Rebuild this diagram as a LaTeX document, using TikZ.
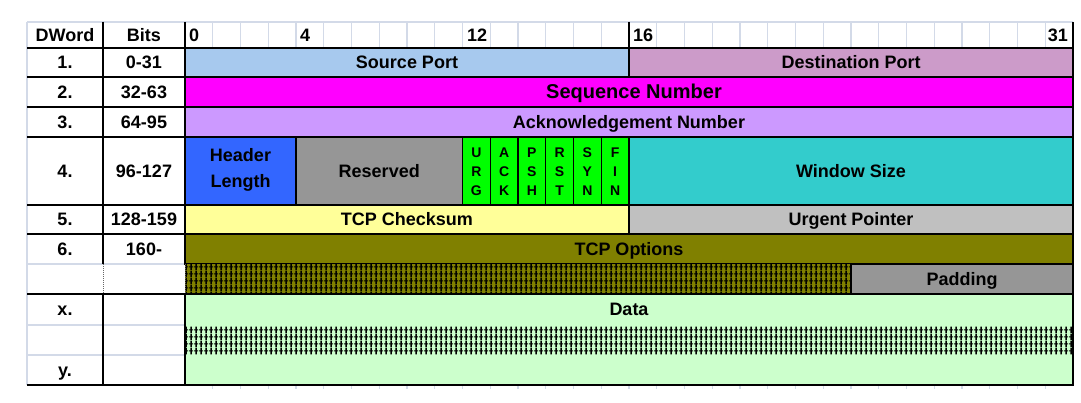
\documentclass[tikz,border=0pt]{standalone}
\usepackage{fontspec}
\setmainfont{Liberation Sans}
\usepackage{xcolor}
\usepackage{tikz}
\usetikzlibrary{patterns}
\definecolor{gridgray}{HTML}{D3DAE8}
\definecolor{srcblue}{HTML}{A7C9EE}
\definecolor{dstmauve}{HTML}{CC9BC9}
\definecolor{seqmagenta}{HTML}{FF00FF}
\definecolor{acklilac}{HTML}{CC99FF}
\definecolor{hdrblue}{HTML}{3366FF}
\definecolor{resgray}{HTML}{969696}
\definecolor{flaggreen}{HTML}{00FF00}
\definecolor{wincyan}{HTML}{33CCCC}
\definecolor{sumyellow}{HTML}{FFFF99}
\definecolor{urggray}{HTML}{C0C0C0}
\definecolor{optolive}{HTML}{808000}
\definecolor{datagreen}{HTML}{CCFFCC}
\pgfdeclarepatternformonly{fieldgrid}{\pgfpointorigin}{\pgfqpoint{4.6pt}{7pt}}{\pgfqpoint{4.6pt}{7pt}}{
  \pgfsetlinewidth{1.5pt}
  \pgfpathmoveto{\pgfqpoint{2.3pt}{0pt}}\pgfpathlineto{\pgfqpoint{2.3pt}{7pt}}
  \pgfusepath{stroke}
  \pgfsetlinewidth{1pt}
  \pgfpathmoveto{\pgfqpoint{0pt}{3.5pt}}\pgfpathlineto{\pgfqpoint{4.6pt}{3.5pt}}
  \pgfusepath{stroke}}
\tikzset{
  field/.style={draw=black,line width=1.4pt},
  gridline/.style={gridgray,line width=1.2pt},
  rule/.style={black,line width=1.6pt},
  hatch/.style={pattern=fieldgrid,pattern color=black},
  lbl/.style={font=\fontsize{18}{20}\selectfont\bfseries,inner sep=0pt,text height=13pt,text depth=0pt},
  twolbl/.style={font=\fontsize{18}{26}\selectfont\bfseries,inner sep=0pt,align=center},
  flaglbl/.style={font=\fontsize{14}{19}\selectfont\bfseries,inner sep=0pt,align=center}
}

\begin{document}
\begin{tikzpicture}[x=1pt,y=-1pt]
\useasboundingbox (0,0) rectangle (1081,403);
% light grid of the sheet
\draw[gridline] (27,22) -- (1073,22);
\draw[gridline] (27,22) -- (27,385);
\foreach \i in {1,...,31}
  \draw[gridline] ({185+\i*27.75},22) -- ({185+\i*27.75},48);
\foreach \i in {1,...,31}
  \draw[gridline] ({185+\i*27.75},385) -- ({185+\i*27.75},389);
\draw[gridline] (27,264) -- (185,264);
\draw[gridline] (27,325) -- (185,325);
\draw[gridline] (27,355) -- (185,355);
% fields
\filldraw[field,fill=srcblue] (185,48) rectangle (629,77);
\filldraw[field,fill=dstmauve] (629,48) rectangle (1073,77);
\filldraw[field,fill=seqmagenta] (185,77) rectangle (1073,107);
\filldraw[field,fill=acklilac] (185,107) rectangle (1073,137);
\filldraw[field,fill=hdrblue] (185,137) rectangle (296,205);
\filldraw[field,fill=resgray] (296,137) rectangle (462.5,205);
\foreach \a/\b/\c [count=\k from 0] in {U/R/G,A/C/K,P/S/H,R/S/T,S/Y/N,F/I/N}{
  \filldraw[field,fill=flaggreen] ({462.5+\k*27.75},137) rectangle ({490.25+\k*27.75},205);
  \node[flaglbl] (flag\k) at ({476.4+\k*27.75},172) {\a\\\b\\\c};
}
\filldraw[field,fill=wincyan] (629,137) rectangle (1073,205);
\filldraw[field,fill=sumyellow] (185,205) rectangle (629,234);
\filldraw[field,fill=urggray] (629,205) rectangle (1073,234);
\filldraw[field,fill=optolive] (185,234) rectangle (1073,264);
\fill[optolive] (185,264) rectangle (851,294);
\fill[hatch] (185,265) rectangle (851,292);
\draw[black!70,densely dotted,line width=1pt] (851,264) -- (851,294);
\filldraw[field,fill=resgray] (851,264) rectangle (1073,294);
\filldraw[field,fill=datagreen] (185,294) rectangle (1073,385);
\fill[hatch] (185,326) rectangle (1073,354);
% table rules
\draw[rule] (103,22) -- (103,264);
\draw[rule] (185,22) -- (185,264);
\draw[black!60,densely dotted,line width=1pt] (103,264) -- (103,294) (185,264) -- (185,294);
\draw[rule] (103,294) -- (103,385);
\draw[rule] (185,294) -- (185,385);
\draw[rule] (629,22) -- (629,48);
\draw[rule] (1073,22) -- (1073,48);
\foreach \r in {48,77,107,137,205,234,294,385}
  \draw[rule] (27,\r) -- (185,\r);
% header row
\node[lbl] (dword) at (65,35) {DWord};
\node[lbl] (bits) at (144,35) {Bits};
\node[lbl,anchor=west] (bit0) at (189,35) {0};
\node[lbl,anchor=west] (bit4) at (300,35) {4};
\node[lbl,anchor=west] (bit12) at (467,35) {12};
\node[lbl,anchor=west] (bit16) at (633,35) {16};
\node[lbl,anchor=east] (bit31) at (1068,35) {31};
% row labels
\node[lbl] (dw1) at (65,62.5) {1.};
\node[lbl] (bt1) at (144,62.5) {0-31};
\node[lbl] (dw2) at (65,92) {2.};
\node[lbl] (bt2) at (144,92) {32-63};
\node[lbl] (dw3) at (65,122) {3.};
\node[lbl] (bt3) at (144,122) {64-95};
\node[lbl] (dw4) at (65,171) {4.};
\node[lbl] (bt4) at (144,171) {96-127};
\node[lbl] (dw5) at (65,219.5) {5.};
\node[lbl] (bt5) at (144,219.5) {128-159};
\node[lbl] (dw6) at (65,249) {6.};
\node[lbl] (bt6) at (144,249) {160-};
\node[lbl] (dwx) at (65,309.5) {x.};
\node[lbl] (dwy) at (65,370) {y.};
% field labels
\node[lbl] (srcport) at (407,62.5) {Source Port};
\node[lbl] (dstport) at (851,62.5) {Destination Port};
\node[lbl,font=\fontsize{20}{22}\selectfont\bfseries] (seqnum) at (634,92) {Sequence Number};
\node[lbl] (acknum) at (629,122) {Acknowledgement Number};
\node[twolbl] (hdrlen) at (240.5,170) {Header\\Length};
\node[lbl] (reserved) at (379.25,171) {Reserved};
\node[lbl] (winsize) at (851,171) {Window Size};
\node[lbl] (checksum) at (407,219.5) {TCP Checksum};
\node[lbl] (urgptr) at (851,219.5) {Urgent Pointer};
\node[lbl] (options) at (629,249) {TCP Options};
\node[lbl] (padding) at (962,279) {Padding};
\node[lbl] (data) at (629,309.5) {Data};
\end{tikzpicture}
\end{document}
